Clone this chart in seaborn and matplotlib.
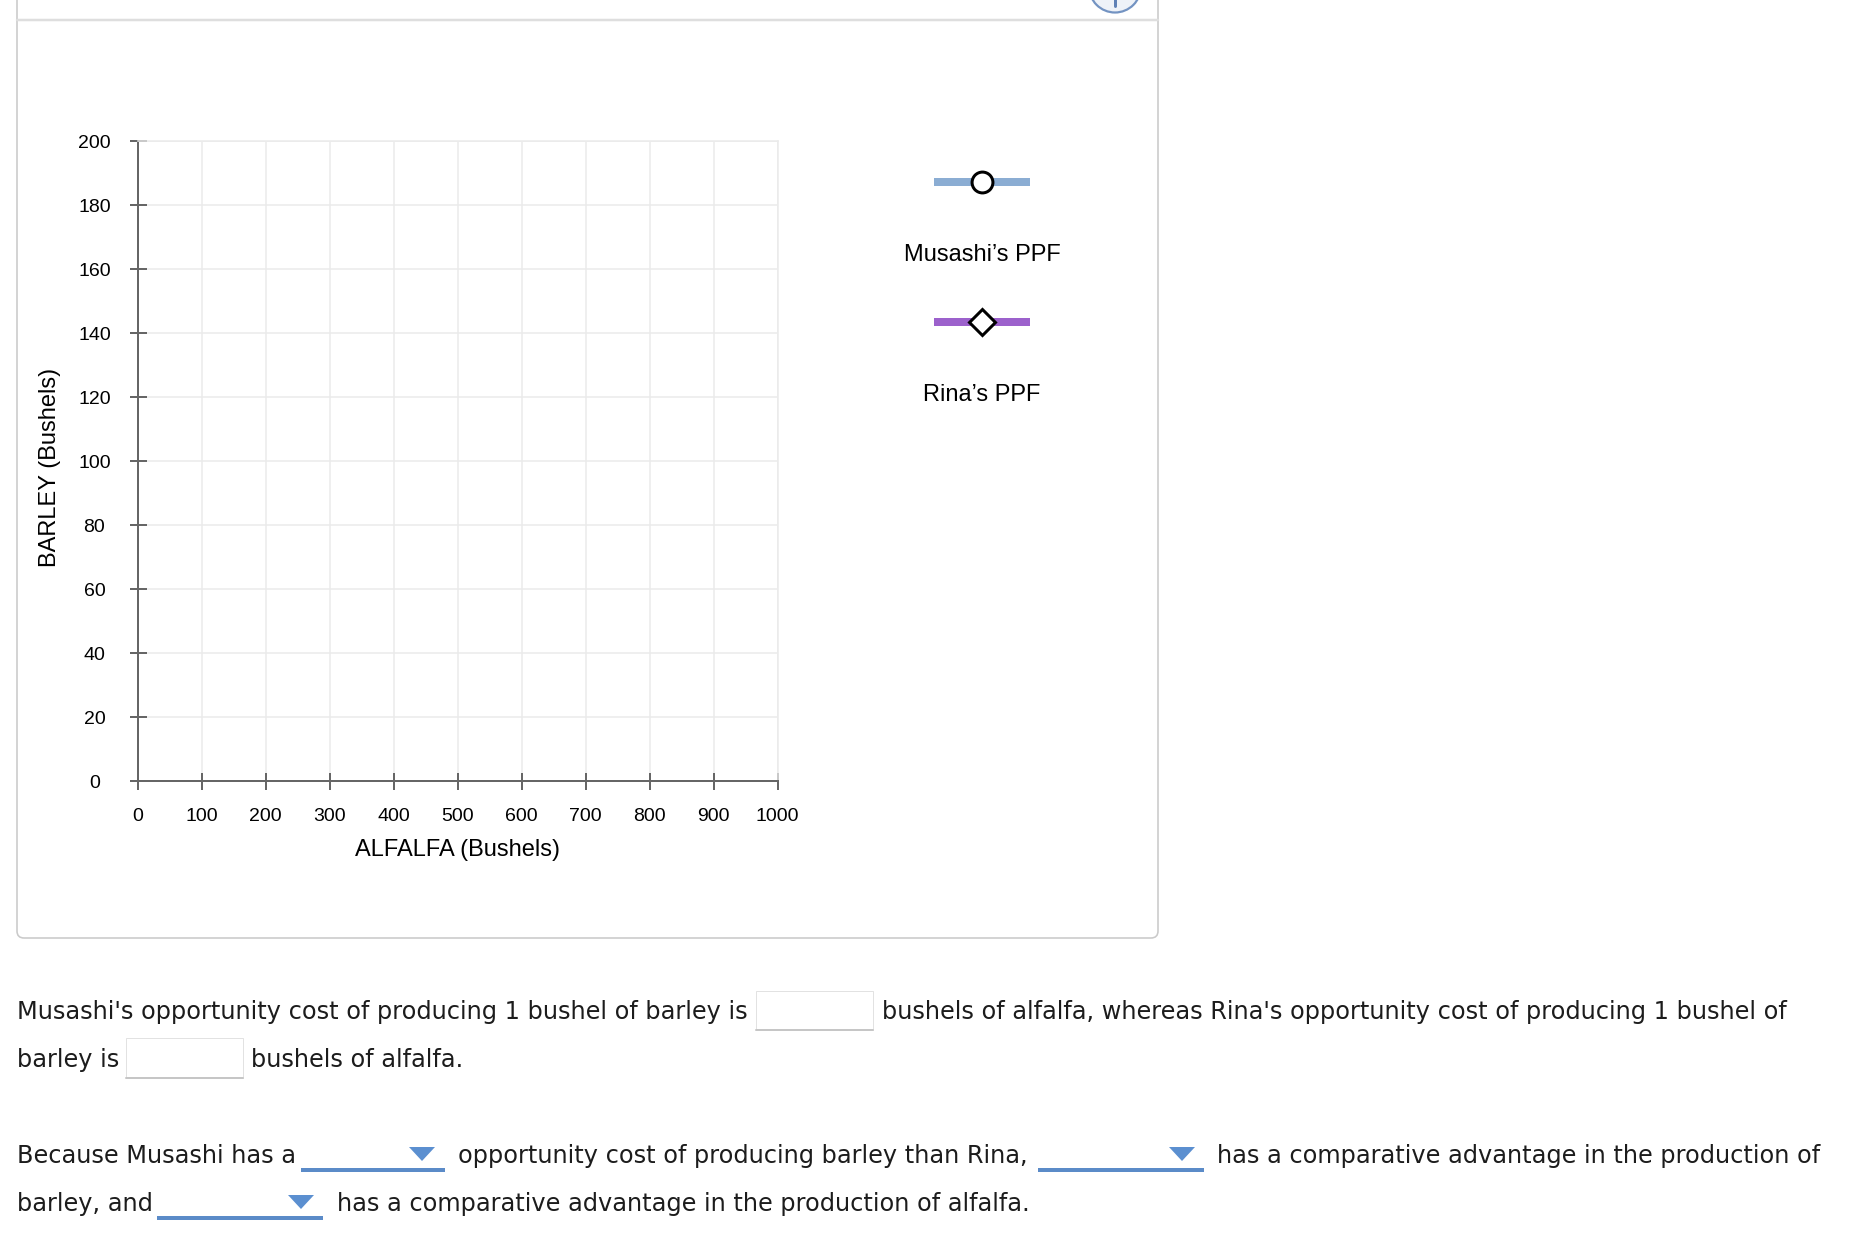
import seaborn as sns
import matplotlib.pyplot as plt
from matplotlib.patches import FancyBboxPatch, Rectangle, Polygon, Circle

W, H = 1876, 1260
DPI = 100
PT = 0.72  # points per pixel at 100 dpi

# chart data
alfalfa_ticks = list(range(0, 1001, 100))
barley_ticks = list(range(0, 201, 20))
x_label = "ALFALFA (Bushels)"
y_label = "BARLEY (Bushels)"
ppf_names = ["Musashi\u2019s PPF", "Rina\u2019s PPF"]
ppf_markers = ["o", "D"]
ppf_colors = ["#8badd3", "#9c61cc"]

# question text (segments, left x, baseline y)
text_parts = [
    ("Musashi's opportunity cost of producing 1 bushel of barley is", 17, 1019),
    ("bushels of alfalfa, whereas Rina's opportunity cost of producing 1 bushel of", 882, 1019),
    ("barley is", 17, 1067),
    ("bushels of alfalfa.", 251, 1067),
    ("Because Musashi has a", 17, 1163),
    ("opportunity cost of producing barley than Rina,", 458, 1163),
    ("has a comparative advantage in the production of", 1217, 1163),
    ("barley, and", 17, 1211),
    ("has a comparative advantage in the production of alfalfa.", 337, 1211),
]
input_boxes = [(756, 991, 873, 1030), (126, 1038, 243, 1078)]
dropdowns = [(301, 445, 1170, 422), (1038, 1204, 1170, 1182), (157, 323, 1218, 301)]

sns.set_theme(style="white")
plt.rcParams["font.family"] = ["Liberation Sans", "DejaVu Sans"]

fig = plt.figure(figsize=(W / DPI, H / DPI), dpi=DPI)
fig.patch.set_facecolor("white")

# background layer in pixel coordinates
bg = fig.add_axes([0, 0, 1, 1], zorder=0)
bg.set_xlim(0, W)
bg.set_ylim(H, 0)
bg.axis("off")

panel = FancyBboxPatch((17, -20), 1141, 958, boxstyle="round,pad=0,rounding_size=7",
                       fc="white", ec="#cacaca", lw=1.6 * PT)
bg.add_patch(panel)
bg.plot([17, 1158], [20, 20], color="#dedede", lw=2.5 * PT)

# info icon, cut off at the top
bg.add_patch(Circle((1115, -13.5), 26, fc="#eef2f8", ec="#7393c2", lw=2.2 * PT))
bg.plot([1115, 1115], [-3, 6], color="#5f81b6", lw=3 * PT)

# legend samples
for i, (name, mk, col) in enumerate(zip(ppf_names, ppf_markers, ppf_colors)):
    y = 182 + i * 140
    bg.plot([934, 1030], [y, y], color=col, lw=8 * PT, solid_capstyle="butt")
    bg.plot([982], [y], marker=mk, ms=15 if mk == "o" else 13, mfc="white",
            mec="black", mew=3 * PT, ls="none")
    bg.text(982, y + 73, name, fontsize=17, ha="center", va="center", color="black")

# question text
for s, x, y in text_parts:
    bg.text(x, y, s, fontsize=17.3, family="DejaVu Sans", color="#1c1c1c",
            ha="left", va="baseline")

for x0, y0, x1, y1 in input_boxes:
    bg.add_patch(Rectangle((x0, y0), x1 - x0, y1 - y0, fc="white", ec="#e2e2e2", lw=1 * PT))
    bg.plot([x0, x1], [y1, y1], color="#c6c6c6", lw=2 * PT)

for x0, x1, y, tx in dropdowns:
    bg.plot([x0, x1], [y, y], color="#5b8bc8", lw=4 * PT, solid_capstyle="butt")
    bg.add_patch(Polygon([(tx - 13, y - 23), (tx + 13, y - 23), (tx, y - 9)],
                         closed=True, fc="#5b8fd0", ec="none"))

# main chart
left, right, top, bottom = 137.6, 777.7, 141.2, 781.3
ax = fig.add_axes([left / W, 1 - bottom / H, (right - left) / W, (bottom - top) / H], zorder=1)
ax.set_facecolor("white")
ax.set_xlim(alfalfa_ticks[0], alfalfa_ticks[-1])
ax.set_ylim(barley_ticks[0], barley_ticks[-1])
ax.set_xticks(alfalfa_ticks)
ax.set_yticks(barley_ticks)
ax.grid(True, color="#ebebeb", lw=1.5 * PT)
ax.set_axisbelow(True)
ax.tick_params(axis="both", direction="inout", length=17 * PT, width=2 * PT,
               color="#666666", labelsize=14, labelcolor="black", left=True, bottom=True)
ax.tick_params(axis="x", pad=13)
ax.tick_params(axis="y", pad=25)
for lab in ax.get_yticklabels():
    lab.set_horizontalalignment("center")
for s in ["left", "bottom"]:
    ax.spines[s].set_color("#666666")
    ax.spines[s].set_linewidth(2 * PT)
for s in ["top", "right"]:
    ax.spines[s].set_color("#ebebeb")
    ax.spines[s].set_linewidth(1.5 * PT)

ax.set_xlabel(x_label, fontsize=17, color="black", va="center")
ax.xaxis.set_label_coords(0.5, (bottom - 850) / (bottom - top))
ax.set_ylabel(y_label, fontsize=17, color="black", va="center")
ax.yaxis.set_label_coords((50 - left) / (right - left), (bottom - 467) / (bottom - top))

fig.savefig("out.png", dpi=DPI, facecolor="white")
